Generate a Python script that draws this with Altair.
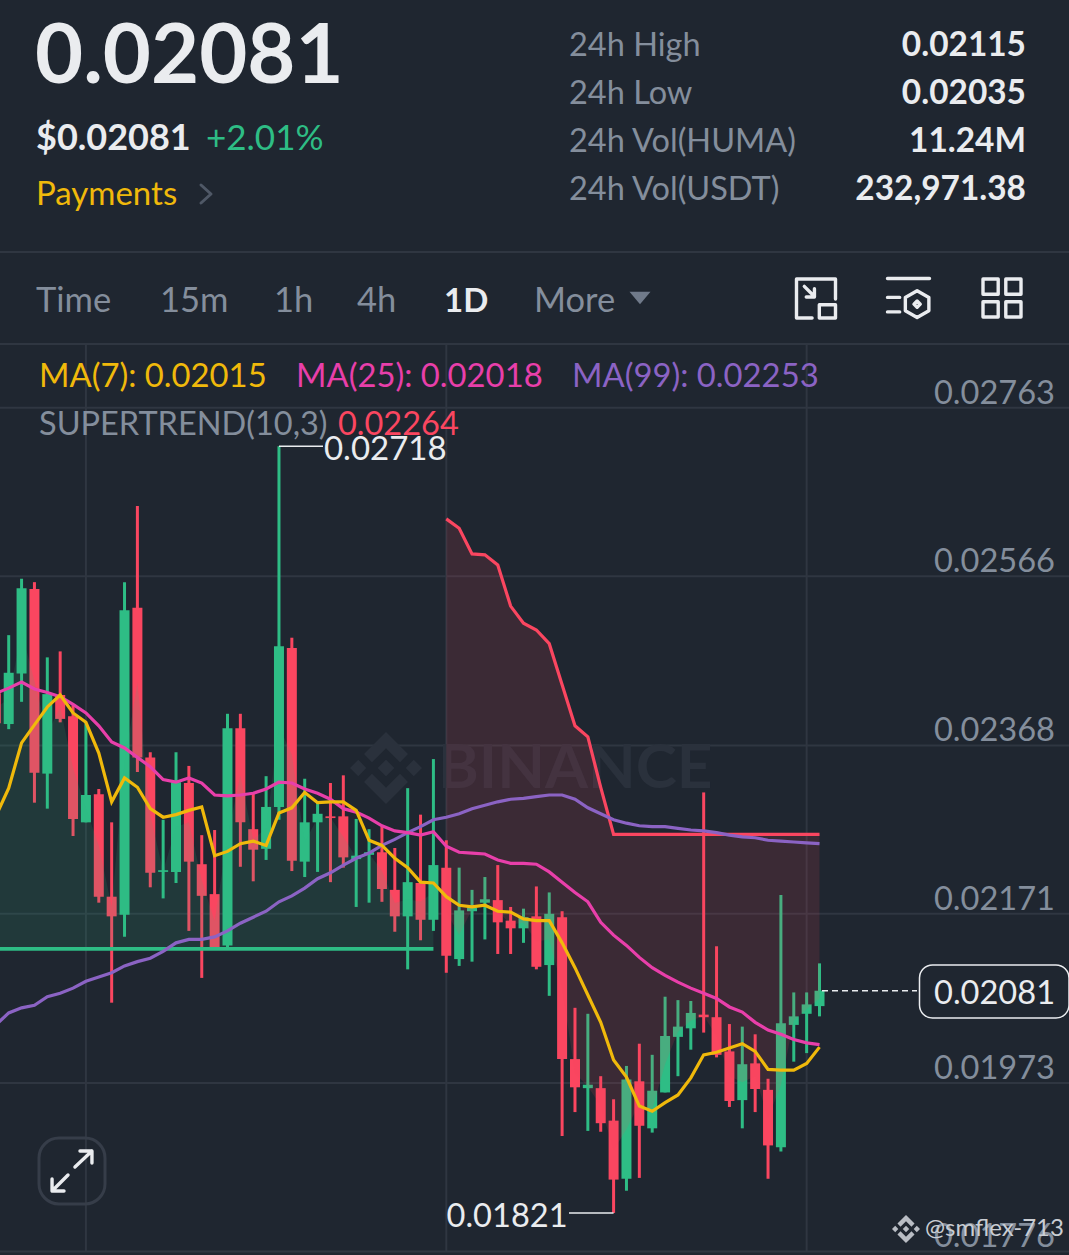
import altair as alt
import pandas as pd

FONT = "Lato"
BG = "#1f2630"
GREEN = "#2EBD85"
RED = "#FA4660"
YELLOW = "#F0B90B"
PINK = "#E83FAA"
PURPLE = "#8B63C4"
GREY = "#848E9C"
WHITE = "#EAECEF"
GRID = "#2f3641"

# Prices in units of 0.00001, first candle is the one cut off by the left edge
candles = list(range(-1, 64))
highs = [2501,2497,2563,2559,2471,2478,2415,2394,2317,2278,2559,2648,2360,2281,2360,2344,2263,2269,2405,2405,2312,2332,2718,2494,2329,2301,2324,2333,2282,2270,2273,2248,2318,2287,2352,2257,2225,2199,2214,2228,2179,2177,2203,2196,2174,2061,2054,1981,1954,1993,2019,2006,2074,2070,2069,2313,2133,2042,2039,2030,1978,2193,2079,2079,2113]
lows = [2386,2387,2419,2301,2294,2395,2262,2278,2184,2067,2144,2337,2202,2189,2207,2151,2096,2129,2131,2226,2209,2234,2281,2221,2214,2220,2208,2225,2179,2184,2185,2150,2106,2140,2151,2102,2110,2115,2141,2124,2124,2137,2106,2075,1911,1939,1917,1916,1821,1847,1862,1915,1962,1981,2012,2032,2003,1945,1920,1939,1861,1893,1998,2008,2051]
opens = [2429,2393,2452,2551,2335,2427,2402,2278,2311,2191,2170,2529,2354,2220,2220,2324,2229,2194,2134,2388,2270,2247,2296,2482,2232,2278,2285,2285,2235,2240,2243,2199,2168,2207,2164,2225,2118,2174,2184,2187,2163,2154,2168,2111,2167,2001,1967,1967,1929,1861,1975,1920,1962,2027,2037,2053,2050,2010,1953,1996,1965,1898,2041,2054,2063]
closes = [2394,2453,2552,2336,2428,2399,2282,2310,2191,2168,2526,2354,2219,2222,2325,2232,2192,2131,2388,2278,2246,2296,2484,2233,2278,2288,2283,2237,2239,2243,2200,2168,2208,2164,2228,2122,2175,2178,2188,2161,2154,2167,2109,2171,2001,1968,1971,1926,1860,1977,1923,1964,2028,2039,2055,2050,2006,1952,1995,1966,1900,2043,2051,2065,2081]
ma7 = [2285,2318,2371,2392,2413,2427,2406,2395,2359,2302,2330,2319,2294,2284,2287,2292,2296,2239,2244,2253,2256,2251,2289,2295,2313,2301,2302,2302,2292,2257,2251,2236,2225,2208,2207,2191,2181,2179,2181,2174,2173,2165,2163,2163,2137,2108,2076,2044,2000,1980,1946,1940,1950,1959,1979,2006,2009,2014,2019,2010,1989,1988,1988,1996,2015]
ma25 = [2429,2435,2442,2434,2430,2425,2416,2406,2391,2372,2365,2354,2343,2328,2325,2330,2324,2310,2309,2310,2312,2317,2325,2324,2317,2312,2305,2294,2290,2283,2274,2268,2266,2263,2267,2250,2243,2242,2241,2234,2230,2230,2229,2220,2208,2196,2185,2161,2146,2134,2120,2108,2099,2091,2084,2078,2072,2062,2056,2044,2035,2030,2024,2020,2018]
ma99 = [2041,2055,2061,2064,2074,2078,2084,2092,2097,2102,2110,2115,2119,2127,2137,2141,2141,2144,2151,2160,2167,2174,2185,2192,2201,2212,2219,2228,2236,2242,2251,2258,2266,2273,2281,2284,2288,2294,2298,2302,2305,2306,2308,2310,2310,2305,2295,2288,2281,2277,2274,2273,2273,2271,2269,2268,2266,2263,2261,2260,2257,2256,2255,2254,2253]
st_green = [2130] * 35
st_red = [2633,2622,2592,2591,2579,2531,2511,2503,2487,2439,2391,2378,2319,2264,2264,2264,2264,2264,2264,2264,2264,2264,2264,2264,2264,2264,2264,2264,2264,2264]
tick_prices = [2763, 2566, 2368, 2171, 1973, 1776]
vgrid_candles = [6, 34, 62]

U = 1e-5
df = pd.DataFrame({"i": candles, "high": highs, "low": lows, "open": opens, "close": closes,
                   "ma7": ma7, "ma25": ma25, "ma99": ma99})
for c in ["high", "low", "open", "close", "ma7", "ma25", "ma99"]:
    df[c] = df[c] * U
df["dir"] = ["up" if c >= o else "down" for o, c in zip(opens, closes)]
df["mid"] = (df["open"] + df["close"]) / 2
df["st"] = [v * U for v in st_green] + [v * U for v in st_red]
df_g = df[df.i <= 33]
df_r = df[df.i >= 34]

xs = alt.Scale(domain=[-0.676, 82.385], range=[0, 1069], nice=False, zero=False)
ys = alt.Scale(domain=[0.017718, 0.032401], range=[1255, 0], nice=False, zero=False)
X = alt.X("i:Q", scale=xs, axis=None)
Y = lambda f: alt.Y(f, type="quantitative", scale=ys, axis=None)
col = alt.Color("dir:N", scale=alt.Scale(domain=["up", "down"], range=[GREEN, RED]), legend=None)


def txt(s, x, y, size=32, color=WHITE, weight="normal", align="left", opacity=1):
    px = x - 1 if align == "left" else x
    return alt.Chart(pd.DataFrame({"t": [s]})).mark_text(
        font=FONT, fontSize=size, color=color, fontWeight=weight, align=align,
        baseline="middle", opacity=opacity
    ).encode(x=alt.value(px), y=alt.value(y + 2), text="t:N")


def hline(y):
    return alt.Chart(pd.DataFrame({"a": [0]})).mark_rule(color=GRID, strokeWidth=2).encode(
        x=alt.value(0), x2=alt.value(1069), y=alt.value(y))


def icon(path, x, y, r, color=WHITE, sw=3.4, filled=False):
    kw = dict(fill=color, stroke=None) if filled else dict(fill=None, stroke=color, strokeWidth=sw, strokeCap="round", strokeJoin="round")
    return alt.Chart(pd.DataFrame({"a": [0]})).mark_point(shape=path, size=4 * r * r, filled=filled, opacity=1, **kw).encode(
        x=alt.value(x), y=alt.value(y))


LOGO = ("M0,-1L0.61,-0.39L0.39,-0.16L0,-0.55L-0.39,-0.16L-0.61,-0.39Z"
        "M0,1L0.61,0.39L0.39,0.16L0,0.55L-0.39,0.16L-0.61,0.39Z"
        "M-1,0L-0.77,-0.23L-0.55,0L-0.77,0.23Z"
        "M1,0L0.77,-0.23L0.55,0L0.77,0.23Z"
        "M0,-0.23L0.23,0L0,0.23L-0.23,0Z")

layers = []
# grid
layers.append(hline(252))
layers.append(hline(344))
layers.append(alt.Chart(pd.DataFrame({"p": [v * U for v in tick_prices]})).mark_rule(color=GRID, strokeWidth=2).encode(
    x=alt.value(0), x2=alt.value(1069), y=Y("p")))
layers.append(alt.Chart(pd.DataFrame({"i": vgrid_candles})).mark_rule(color=GRID, strokeWidth=2).encode(
    x=X, y=alt.value(345), y2=alt.value(1252)))
# watermark
layers.append(icon(LOGO, 386, 768, 36, "#2a313c", filled=True))
layers.append(txt("BINANCE", 439, 767, 62, "#2a313c", "bold"))
# candles
layers.append(alt.Chart(df).mark_rule(strokeWidth=3).encode(x=X, y=Y("low"), y2="high:Q", color=col))
layers.append(alt.Chart(df).mark_rule(strokeWidth=10).encode(x=X, y=Y("open"), y2="close:Q", color=col))
# supertrend fill
layers.append(alt.Chart(df_g).mark_area(color=GREEN, opacity=0.13).encode(x=X, y=Y("st"), y2="mid:Q"))
layers.append(alt.Chart(df_r).mark_area(color=RED, opacity=0.13).encode(x=X, y=Y("st"), y2="mid:Q"))
# lines
layers.append(alt.Chart(df_g).mark_line(color=GREEN, strokeWidth=3.6).encode(x=X, y=Y("st")))
layers.append(alt.Chart(df_r).mark_line(color=RED, strokeWidth=3.2).encode(x=X, y=Y("st")))
layers.append(alt.Chart(df).mark_line(color=PURPLE, strokeWidth=3.2).encode(x=X, y=Y("ma99")))
layers.append(alt.Chart(df).mark_line(color=PINK, strokeWidth=3.2).encode(x=X, y=Y("ma25")))
layers.append(alt.Chart(df).mark_line(color=YELLOW, strokeWidth=3.2).encode(x=X, y=Y("ma7")))
# high / low callouts
hi = pd.DataFrame({"i": [21], "p": [2718 * U]})
lo = pd.DataFrame({"i": [47], "p": [1821 * U]})
layers.append(alt.Chart(hi).mark_rule(color=WHITE, strokeWidth=1.5).encode(x=X, x2=alt.value(323), y=Y("p")))
layers.append(alt.Chart(lo).mark_rule(color=WHITE, strokeWidth=1.5).encode(x=X, x2=alt.value(569), y=Y("p")))
layers.append(alt.Chart(hi.assign(t="0.02718")).mark_text(font=FONT, fontSize=33, color=WHITE, align="left", baseline="middle", dx=45, dy=4).encode(x=X, y=Y("p"), text="t:N"))
layers.append(alt.Chart(lo.assign(t="0.01821")).mark_text(font=FONT, fontSize=32.6, color=WHITE, align="right", baseline="middle", dx=-46, dy=4).encode(x=X, y=Y("p"), text="t:N"))
# axis labels
tick_df = pd.DataFrame({"p": [v * U for v in tick_prices], "t": [f"0.0{v}" for v in tick_prices]})
layers.append(alt.Chart(tick_df).mark_text(font=FONT, fontSize=32.6, color=GREY, align="right", baseline="middle", dy=-14).encode(
    x=alt.value(1055), y=Y("p"), text="t:N"))
# current price
cur = pd.DataFrame({"p": [2081 * U]})
layers.append(alt.Chart(cur).mark_rule(color=WHITE, strokeWidth=1.5, strokeDash=[6, 4]).encode(x=alt.value(822), x2=alt.value(917), y=Y("p")))
layers.append(alt.Chart(cur).mark_rect(fill=BG, stroke=WHITE, strokeWidth=1.5, cornerRadius=13).encode(
    x=alt.value(919.5), x2=alt.value(1069), y=alt.value(965), y2=alt.value(1018)))
layers.append(txt("0.02081", 935, 992, 32.6, WHITE))
# header
layers.append(txt("0.02081", 36, 56, 83, WHITE, "bold"))
layers.append(txt("$0.02081", 37, 137, 36, WHITE, "bold"))
layers.append(txt("+2.01%", 207, 137, 35, GREEN))
layers.append(txt("Payments", 37, 193, 33, YELLOW))
layers.append(icon("M-0.5,-0.9L0.5,0L-0.5,0.9", 206, 194, 10, "#4f5866", 3))
for s, v, y in [("24h High", "0.02115", 44), ("24h Low", "0.02035", 92),
                ("24h Vol(HUMA)", "11.24M", 140), ("24h Vol(USDT)", "232,971.38", 188)]:
    layers.append(txt(s, 570, y, 32.5, GREY))
    layers.append(txt(v, 1026, y, 33.4, WHITE, "bold", "right"))
# tabs
for s, x in [("Time", 37), ("15m", 161), ("1h", 275), ("4h", 358), ("More", 535)]:
    layers.append(txt(s, x, 300, 34.5, GREY))
layers.append(txt("1D", 445, 300, 33, WHITE, "bold"))
layers.append(icon("M-1,-0.6L1,-0.6L0,0.6Z", 640, 298, 10.5, "#707a8a", filled=True))
layers.append(icon("M1,0.03L1,-1L-1,-1L-1,1L-0.2,1M0.17,0.32L1,0.32L1,1L0.17,1ZM-0.6,-0.62L-0.08,-0.1M-0.08,-0.5L-0.08,-0.08L-0.5,-0.08", 816, 298.5, 19.5))
layers.append(icon("M-1,-1L1,-1M-1,-0.1L-0.42,-0.1M-1,0.59L-0.42,0.59M0.41,-0.42L0.97,-0.1L0.97,0.54L0.41,0.86L-0.15,0.54L-0.15,-0.1ZM0.41,0.07L0.56,0.22L0.41,0.37L0.26,0.22Z", 908.5, 299.5, 21))
layers.append(icon("M-1,-1L-0.2,-1L-0.2,-0.2L-1,-0.2ZM0.2,-1L1,-1L1,-0.2L0.2,-0.2ZM-1,0.2L-0.2,0.2L-0.2,1L-1,1ZM0.2,0.2L1,0.2L1,1L0.2,1Z", 1002, 298, 19))
# indicator legend
layers.append(txt("MA(7): 0.02015", 40, 375, 32.8, YELLOW))
layers.append(txt("MA(25): 0.02018", 297, 375, 32.8, PINK))
layers.append(txt("MA(99): 0.02253", 573, 375, 32.8, PURPLE))
layers.append(txt("SUPERTREND(10,3)", 40, 423, 32.5, GREY))
layers.append(txt("0.02264", 339, 423, 32.5, RED))
# expand button
layers.append(alt.Chart(pd.DataFrame({"a": [0]})).mark_rect(fill=None, stroke="#363d49", strokeWidth=3, cornerRadius=20).encode(
    x=alt.value(39), x2=alt.value(105), y=alt.value(1138), y2=alt.value(1204)))
layers.append(icon("M0.14,-0.19L0.95,-0.95M0.38,-0.95L0.95,-0.95L0.95,-0.38M-0.19,0.19L-0.95,0.95M-0.95,0.38L-0.95,0.95L-0.38,0.95", 72, 1171, 21, WHITE, 3.4))
# attribution
layers.append(icon(LOGO, 906, 1229, 14, "#b9bdc4", filled=True))
layers.append(txt("@smflex-713", 926, 1227, 24, "#c9cdd3"))

chart = alt.layer(*layers).resolve_scale(x="shared", y="shared", color="independent").properties(
    width=1069, height=1255, background=BG, padding=0,
    autosize=alt.AutoSizeParams(type="none")
).configure_view(stroke=None)

chart.save("out.html", embed_options={"renderer": "svg", "actions": False,
                                      "defaultStyle": "html,body{margin:0;padding:0;overflow:hidden;background:#1f2630}"})
